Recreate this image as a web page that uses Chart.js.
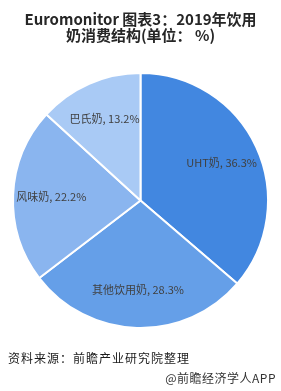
<!DOCTYPE html>
<html>
<head>
<meta charset="utf-8">
<script src="https://cdn.jsdelivr.net/npm/chart.js@4"></script>
<style>
  html, body { margin: 0; padding: 0; background: #fff; }
  #wrap { position: relative; width: 281px; height: 391px; overflow: hidden; }
  #title {
    position: absolute; left: 0; top: 11px; width: 281px; text-align: center;
    font: bold 15px "Noto Sans CJK SC", "Liberation Sans", sans-serif;
    line-height: 16px; color: #262626;
  }
  #source {
    position: absolute; left: 8px; top: 349px;
    font: 12px "Noto Sans CJK SC", sans-serif; color: #1a1a1a; letter-spacing: 1px;
  }
  #brand {
    position: absolute; right: 5px; top: 369px;
    font: 12px "Noto Sans CJK SC", sans-serif; color: #333; letter-spacing: 0.5px;
  }
  canvas { position: absolute; left: 0; top: 0; }
</style>
</head>
<body>
<div id="wrap">
  <canvas id="pie" width="281" height="391"></canvas>
  <div id="title">Euromonitor 图表3：2019年饮用<br>奶消费结构(单位： %)</div>
  <div id="source">资料来源：前瞻产业研究院整理</div>
  <div id="brand">@前瞻经济学人APP</div>
</div>
<script>
// categories and values (percent)
const categories = ["UHT奶", "其他饮用奶", "风味奶", "巴氏奶"];
const shares = [36.3, 28.3, 22.2, 13.2];
const sliceColors = ["#4287e0", "#659fe8", "#8ab5ef", "#a9caf5"];

// draws "name, value%" inside each slice
const sliceLabels = {
  id: "sliceLabels",
  afterDatasetsDraw(chart) {
    const ctx = chart.ctx;
    const meta = chart.getDatasetMeta(0);
    ctx.save();
    ctx.font = "11px 'Noto Sans CJK SC', sans-serif";
    ctx.fillStyle = "#404040";
    ctx.textAlign = "center";
    ctx.textBaseline = "middle";
    meta.data.forEach((arc, i) => {
      const mid = (arc.startAngle + arc.endAngle) / 2;
      const r = arc.outerRadius * 0.7;
      const x = arc.x + Math.cos(mid) * r;
      const y = arc.y + Math.sin(mid) * r;
      ctx.fillText(categories[i] + ", " + shares[i].toFixed(1) + "%", x, y);
    });
    ctx.restore();
  }
};

let ctx = document.getElementById("pie").getContext("2d");

let pieChart = new Chart(ctx, {
  type: "pie",
  data: {
    labels: categories,
    datasets: [{
      data: shares,
      backgroundColor: sliceColors,
      borderColor: "#ffffff",
      borderWidth: 2
    }]
  },
  options: {
    responsive: false,
    animation: false,
    layout: { padding: { left: 12, right: 12, top: 72, bottom: 62 } },
    plugins: {
      legend: { display: false },
      tooltip: { enabled: false },
      title: { display: false }
    }
  },
  plugins: [sliceLabels]
});
</script>
</body>
</html>
